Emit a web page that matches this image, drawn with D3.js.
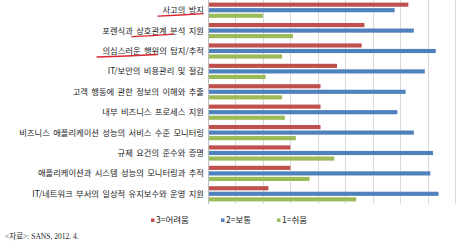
<!DOCTYPE html>
<html>
<head>
<meta charset="utf-8">
<script src="https://cdn.jsdelivr.net/npm/d3@7"></script>
<style>
    html, body { margin: 0; padding: 0; background: #fff; }
    svg text { font-family: "Noto Sans CJK KR", "Noto Sans", sans-serif; fill: #222; }
</style>
</head>
<body>
<div id="chart"></div>
<script>
// Categories, top to bottom
const categories = [
    '사고의 방지',
    '포렌식과 상호관계 분석 지원',
    '의심스러운 행위의 탐지/추적',
    'IT/보안의 비용관리 및 절감',
    '고객 행동에 관한 정보의 이해와 추출',
    '내부 비즈니스 프로세스 지원',
    '비즈니스 애플리케이션 성능의 서비스 수준 모니터링',
    '규제 요건의 준수와 증명',
    '애플리케이션과 시스템 성능의 모니터링과 추적',
    'IT/네트워크 부서의 일상적 유지보수와 운영 지원'
];

const seriesNames = ['3=어려움', '2=보통', '1=쉬움'];
const seriesColors = ['#C0504D', '#4F81BD', '#9BBB59'];

// values (grid step = 10)
const hard   = [73, 57, 56, 47, 41, 41, 41, 30, 30, 22];
const normal = [68, 75, 83, 79, 72, 69, 75, 82, 81, 84];
const easy   = [20, 31, 27, 21, 27, 28, 32, 46, 37, 54];
const series = [hard, normal, easy];

const xTicks = d3.range(0, 91, 10);

// rows whose labels carry a red hand-drawn underline: [row, x from, x to]
const underlines = [
    [0, 158, 203],
    [1, 132, 173],
    [2, 97, 157]
];

const W = 474, H = 249;
const plotLeft = 208, plotRight = 455, plotTop = 0, plotBottom = 204;

const svg = d3.select('#chart').append('svg')
    .attr('width', W)
    .attr('height', H);

const x = d3.scaleLinear().domain([0, 90]).range([plotLeft, plotRight]);
const y = d3.scaleBand().domain(categories).range([plotTop, plotBottom]).padding(0);
const sub = d3.scaleBand().domain(d3.range(series.length)).range([-9, 9]).padding(0.25);

// gridlines
svg.append('g')
    .selectAll('line')
    .data(xTicks)
    .join('line')
    .attr('x1', d => Math.round(x(d)) + 0.5)
    .attr('x2', d => Math.round(x(d)) + 0.5)
    .attr('y1', plotTop)
    .attr('y2', plotBottom)
    .attr('stroke', d => d === 0 ? '#bdbdbd' : '#d9d9d9')
    .attr('stroke-width', 1);

// bars
series.forEach((vals, si) => {
    svg.append('g')
        .selectAll('rect')
        .data(vals)
        .join('rect')
        .attr('x', x(0) + 1)
        .attr('y', (d, i) => y(categories[i]) + y.bandwidth() / 2 + sub(si))
        .attr('width', d => x(d) - x(0) - 1)
        .attr('height', sub.bandwidth())
        .attr('fill', seriesColors[si]);
});

// category labels
svg.append('g')
    .selectAll('text')
    .data(categories)
    .join('text')
    .attr('x', plotLeft - 4)
    .attr('y', d => y(d) + y.bandwidth() / 2)
    .attr('dy', '0.35em')
    .attr('text-anchor', 'end')
    .attr('font-size', 8.3)
    .attr('word-spacing', 1.5)
    .text(d => d);

// red underlines on some labels
svg.append('g')
    .selectAll('path')
    .data(underlines)
    .join('path')
    .attr('d', ([row, x0, x1]) => {
        const cy = y(categories[row]) + y.bandwidth() / 2 + 4.5;
        return `M${x0},${cy + 1.5} Q${(x0 + x1) / 2},${cy + 0.5} ${x1},${cy - 1}`;
    })
    .attr('fill', 'none')
    .attr('stroke', '#d9252f')
    .attr('stroke-width', 1.3)
    .attr('stroke-linecap', 'round');

// legend
const legendX = [151, 221, 277];
const legend = svg.append('g');
seriesNames.forEach((name, i) => {
    legend.append('rect')
        .attr('x', legendX[i])
        .attr('y', 218.5)
        .attr('width', 3.5)
        .attr('height', 3.5)
        .attr('fill', seriesColors[i]);
    legend.append('text')
        .attr('x', legendX[i] + 5)
        .attr('y', 220.5)
        .attr('dy', '0.35em')
        .attr('font-size', 8.5)
        .text(name);
});

// source note
svg.append('text')
    .attr('x', 5)
    .attr('y', 236)
    .attr('dy', '0.35em')
    .attr('font-size', 7.5)
    .style('font-family', '"Liberation Serif", "Noto Sans CJK KR", serif')
    .text('<자료>: SANS, 2012. 4.');
</script>
</body>
</html>
